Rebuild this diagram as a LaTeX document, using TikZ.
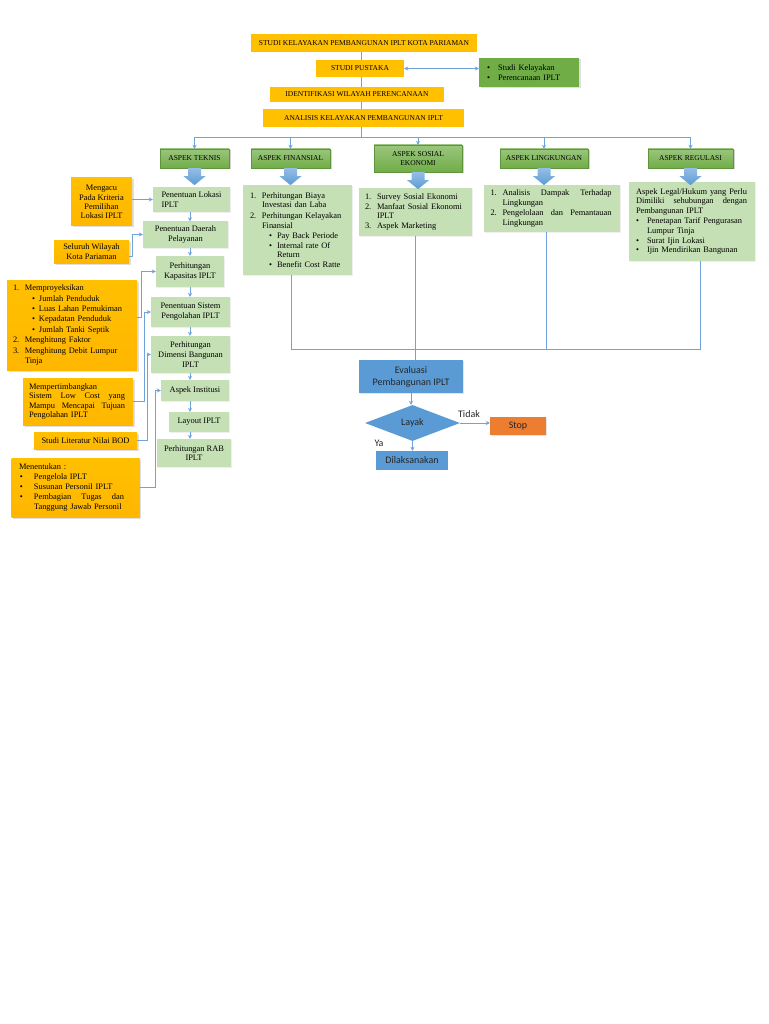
\documentclass[tikz,border=0pt]{standalone}
\usepackage{fontspec}
\setmainfont{Liberation Serif}
\newfontfamily\calibri{Carlito}
\definecolor{kuning}{HTML}{FFC000}
\definecolor{hijau}{HTML}{70AD47}
\definecolor{hijaumuda}{HTML}{C5E0B4}
\definecolor{biru}{HTML}{5B9BD5}
\definecolor{garis}{HTML}{6FA3D9}
\definecolor{oranye}{HTML}{ED7D31}
\definecolor{teks}{HTML}{262626}
\usepackage{tikz}
\usetikzlibrary{arrows.meta,shapes.geometric,shadows}
\newcommand{\capfont}{\fontsize{7.5}{9}\selectfont}
\newcommand{\txtfont}{\fontsize{8.4}{9.8}\selectfont}
\newcommand{\nr}[1]{\makebox[12pt][l]{#1}}
\newcommand{\bl}[1][8pt]{\makebox[#1][l]{\textbullet}}
\newcommand{\rata}[2]{\makebox[#1][l]{#2}}

\begin{document}
\begin{tikzpicture}[x=1pt,y=-1pt,
  judulbox/.style={fill=kuning,font=\capfont,inner sep=0pt},
  aspek/.style={top color=hijau!70!white,bottom color=hijau,draw=hijau!85!black,line width=0.3pt,font=\capfont,align=center,inner sep=1pt,drop shadow={opacity=0.35,shadow xshift=1.5pt,shadow yshift=-1.5pt}},
  rinci/.style={fill=hijaumuda,font=\txtfont,inner sep=1pt,drop shadow={opacity=0.12,shadow xshift=1pt,shadow yshift=-1pt}},
  catatan/.style={top color=kuning,bottom color=kuning!85!orange,font=\txtfont,inner sep=1pt,drop shadow={opacity=0.25,shadow xshift=1.5pt,shadow yshift=-1.5pt}},
  alur/.style={fill=biru,text=teks,font=\calibri\fontsize{10}{12}\selectfont,align=center,inner sep=1pt},
  garisan/.style={draw=garis,line width=0.7pt},
  panah/.style={garisan,-{Stealth[length=4pt,width=4pt]}},
  panah2/.style={garisan,{Stealth[length=4pt,width=4pt]}-{Stealth[length=4pt,width=4pt]}},
]
\useasboundingbox (0,0) rectangle (768,1024);
\fill[white] (0,0) rectangle (768,1024);

\node[judulbox,minimum width=226pt,minimum height=18pt] (judul) at (364,43) {STUDI KELAYAKAN PEMBANGUNAN IPLT KOTA PARIAMAN};
\node[judulbox,minimum width=88pt,minimum height=17pt] (pustaka) at (360,68.5) {STUDI PUSTAKA};
\node[fill=hijau,font=\txtfont,text width=84pt,inner xsep=8pt,inner ysep=1pt,minimum height=29pt,align=left,drop shadow={opacity=0.25,shadow xshift=1.5pt,shadow yshift=-1.5pt}] (literatur) at (529,72.5) {\bl[11pt]Studi Kelayakan\\\bl[11pt]Perencanaan IPLT};
\node[judulbox,minimum width=174pt,minimum height=15pt] (identifikasi) at (357,94.5) {IDENTIFIKASI WILAYAH PERENCANAAN};
\node[judulbox,minimum width=201pt,minimum height=18pt] (analisis) at (363.5,118) {ANALISIS KELAYAKAN PEMBANGUNAN IPLT};

\coordinate (tulang) at (361,0);
\coordinate (bus) at (361,137);
\draw[garisan] (judul.south -| tulang) -- (pustaka.north -| tulang);
\draw[garisan] (pustaka.south -| tulang) -- (identifikasi.north -| tulang);
\draw[garisan] (identifikasi.south -| tulang) -- (analisis.north -| tulang);
\draw[garisan] (analisis.south -| tulang) -- (bus);
\draw[panah2] (pustaka.east) -- (pustaka.east -| literatur.west);

\node[aspek,minimum width=69pt,minimum height=19pt] (teknis) at (194.5,158.5) {ASPEK TEKNIS};
\node[aspek,minimum width=79pt,minimum height=19pt] (finansial) at (290.5,158.5) {ASPEK FINANSIAL};
\node[aspek,minimum width=88pt,minimum height=27pt] (sosial) at (418,158.5) {ASPEK SOSIAL\\EKONOMI};
\node[aspek,minimum width=88pt,minimum height=19pt] (lingkungan) at (544,158.5) {ASPEK LINGKUNGAN};
\node[aspek,minimum width=85pt,minimum height=19pt] (regulasi) at (690.5,158.5) {ASPEK REGULASI};

\node[rinci,text width=95pt,inner xsep=7pt,minimum height=90pt,align=left] (finrinci) at (297.5,230) {\nr{1.}Perhitungan Biaya\\\nr{}Investasi dan Laba\\[1pt]\nr{2.}Perhitungan Kelayakan\\\nr{}Finansial\\\hspace*{19pt}\bl Pay Back Periode\\\hspace*{19pt}\bl Internal rate Of\\\hspace*{27pt}Return\\\hspace*{19pt}\bl Benefit Cost Ratte};
\node[rinci,text width=101pt,inner xsep=6pt,minimum height=48pt,align=left] (sosrinci) at (415.5,212) {\nr{1.}Survey Sosial Ekonomi\\\nr{2.}Manfaat Sosial Ekonomi\\\nr{}IPLT\\\nr{3.}Aspek Marketing};
\node[rinci,text width=123pt,inner xsep=6.5pt,minimum height=47pt,align=left] (linrinci) at (552,208.5) {\nr{1.}\rata{109pt}{Analisis\hfill Dampak\hfill Terhadap}\\\nr{}Lingkungan\\[1pt]\nr{2.}\rata{109pt}{Pengelolaan\hfill dan\hfill Pemantauan}\\\nr{}Lingkungan};
\node[rinci,text width=112pt,inner xsep=7pt,minimum height=79pt,align=left] (regrinci) at (692,221.5) {\rata{111pt}{Aspek\hfill Legal/Hukum\hfill yang\hfill Perlu}\\\rata{111pt}{Dimiliki\hfill sehubungan\hfill dengan}\\Pembangunan IPLT\\\bl[11pt]Penetapan Tarif Pengurasan\\\hspace*{11pt}Lumpur Tinja\\\bl[11pt]Surat Ijin Lokasi\\\bl[11pt]Ijin Mendirikan Bangunan};

\node[rinci,minimum width=77pt,minimum height=25pt,align=left] (lokasi) at (191.5,199.5) {Penentuan Lokasi\\IPLT};
\node[rinci,minimum width=85pt,minimum height=26pt,align=center] (daerah) at (185.5,234.5) {Penentuan Daerah\\Pelayanan};
\node[rinci,minimum width=68pt,minimum height=31pt,align=center] (kapasitas) at (190,271.5) {Perhitungan\\Kapasitas IPLT};
\node[rinci,minimum width=79pt,minimum height=30pt,align=center] (sistem) at (190.5,312) {Penentuan Sistem\\Pengolahan IPLT};
\node[rinci,minimum width=79pt,minimum height=37pt,align=center] (dimensi) at (190.5,354.5) {Perhitungan\\Dimensi Bangunan\\IPLT};
\node[rinci,minimum width=68pt,minimum height=21pt] (institusi) at (195,390.5) {Aspek Institusi};
\node[rinci,minimum width=60pt,minimum height=20pt] (layout) at (199,422) {Layout IPLT};
\node[rinci,minimum width=74pt,minimum height=28pt,align=center] (rab) at (194,453) {Perhitungan RAB\\IPLT};

\coordinate (kolom) at (190,0);
\foreach \a/\b in {lokasi/daerah,daerah/kapasitas,kapasitas/sistem,sistem/dimensi,dimensi/institusi,institusi/layout,layout/rab}
  \draw[panah] (\a.south -| kolom) -- (\b.north -| kolom);

\draw[garisan] (teknis.north |- bus) -- (regulasi.north |- bus);
\foreach \a in {teknis,finansial,sosial,lingkungan,regulasi} {
  \draw[panah] (\a.north |- bus) -- (\a.north);
  \shade[top color=biru!65!white,bottom color=biru] (\a.south) ++(-6.5,0) -- ++(13,0) -- ++(0,8) -- ++(4.5,0) -- ++(-11,9) -- ++(-11,-9) -- ++(4.5,0) -- cycle;
}

\node[catatan,minimum width=61pt,minimum height=48pt,align=center,font=\fontsize{8.4}{9.2}\selectfont] (mengacu) at (101.5,202) {Mengacu\\Pada Kriteria\\Pemilihan\\Lokasi IPLT};
\node[catatan,minimum width=75pt,minimum height=23pt,align=center] (seluruh) at (91.5,251.5) {Seluruh Wilayah\\Kota Pariaman};
\node[catatan,text width=118pt,inner xsep=6pt,minimum height=90pt,align=left,font=\fontsize{8.4}{10.4}\selectfont] (proyeksi) at (72,325) {\nr{1.}Memproyeksikan\\\hspace*{19pt}\bl[7pt]Jumlah Penduduk\\\hspace*{19pt}\bl[7pt]Luas Lahan Pemukiman\\\hspace*{19pt}\bl[7pt]Kepadatan Penduduk\\\hspace*{19pt}\bl[7pt]Jumlah Tanki Septik\\\nr{2.}Menghitung Faktor\\\nr{3.}Menghitung Debit Lumpur\\\nr{}Tinja};
\node[catatan,text width=98pt,inner xsep=6pt,minimum height=47pt,align=left,font=\fontsize{8.4}{9.4}\selectfont] (pertimbang) at (78,401.5) {Mempertimbangkan\\\rata{96pt}{Sistem\hfill Low\hfill Cost\hfill yang}\\\rata{96pt}{Mampu\hfill Mencapai\hfill Tujuan}\\Pengolahan IPLT};
\node[catatan,minimum width=103pt,minimum height=17pt] (bod) at (85.5,440.5) {Studi Literatur Nilai BOD};
\node[catatan,text width=113pt,inner xsep=7.5pt,minimum height=59pt,align=left] (menentukan) at (75.5,487.5) {Menentukan :\\\hspace*{1pt}\bl[14pt]Pengelola IPLT\\\hspace*{1pt}\bl[14pt]Susunan Personil IPLT\\\hspace*{1pt}\bl[14pt]\rata{90pt}{Pembagian\hfill Tugas\hfill dan}\\\hspace*{15pt}Tanggung Jawab Personil};

\draw[panah] (mengacu.east |- lokasi.west) -- (lokasi.west);
\draw[panah] ([yshift=-5pt]seluruh.east) -- ++(3,0) |- (daerah.west);
\draw[panah] ([yshift=8pt]proyeksi.east) -- ++(4,0) |- (kapasitas.west);
\draw[panah] (pertimbang.east) -- ++(11,0) |- (sistem.west);
\draw[panah] (bod.east) -- ++(10,0) |- (dimensi.west);
\draw[panah] (menentukan.east) -- ++(16,0) |- (institusi.west);

\node[alur,minimum width=104pt,minimum height=33pt,drop shadow={opacity=0.2,shadow xshift=1pt,shadow yshift=-1pt}] (evaluasi) at (411,376.5) {Evaluasi\\Pembangunan IPLT};
\node[alur,diamond,aspect=2.6,minimum width=95pt,minimum height=36pt,inner sep=0pt] (layak) at (412.5,423) {Layak};
\node[alur,fill=oranye,minimum width=56pt,minimum height=18pt,drop shadow={opacity=0.2,shadow xshift=1pt,shadow yshift=-1pt}] (stop) at (518,426) {Stop};
\node[alur,minimum width=72pt,minimum height=19pt] (laksana) at (412,460.5) {Dilaksanakan};
\node[font=\calibri\fontsize{10}{12}\selectfont,text=teks,inner sep=0pt] (tidak) at (469,414) {Tidak};
\node[font=\calibri\fontsize{10}{12}\selectfont,text=teks,inner sep=0pt] (ya) at (379,443) {Ya};

\coordinate (gabung) at (415,349);
\draw[garisan] ([xshift=-6.5pt]finrinci.south) |- (gabung);
\draw[garisan] ([xshift=-6pt]linrinci.south) |- (gabung);
\draw[garisan] ([xshift=8pt]regrinci.south) |- (gabung);
\draw[garisan] (sosrinci.south) -- (sosrinci.south |- evaluasi.north);
\draw[panah] (evaluasi.south) -- (evaluasi.south |- layak.north);
\draw[panah] (layak.east) -- (layak.east -| stop.west);
\draw[panah] (layak.south) -- (layak.south |- laksana.north);
\end{tikzpicture}
\end{document}
